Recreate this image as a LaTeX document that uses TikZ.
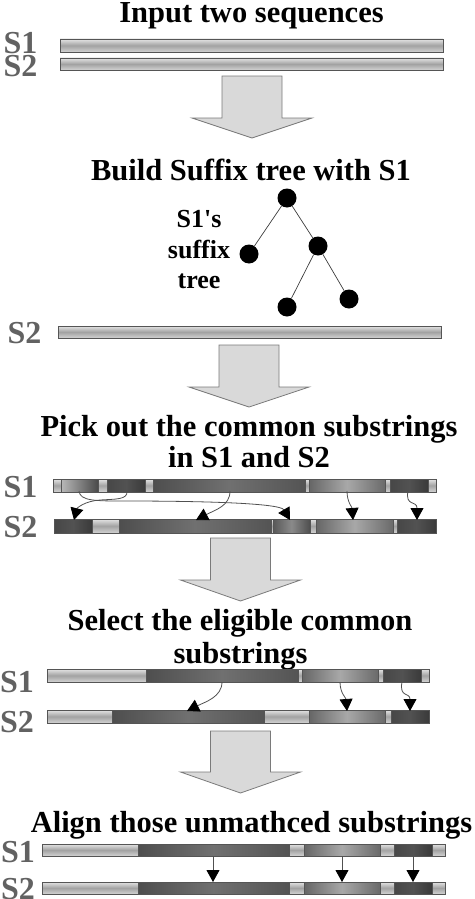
\documentclass[tikz,border=0pt]{standalone}
\usepackage{fontspec}
\setmainfont{Liberation Serif}[Ligatures=TeXOff]
\usetikzlibrary{arrows.meta}
\definecolor{labgray}{HTML}{626262}
\definecolor{bord}{HTML}{555555}
\definecolor{linec}{HTML}{3C3C3C}
\definecolor{connc}{HTML}{505050}
\definecolor{arrfill}{HTML}{D9D9D9}
\definecolor{arrbord}{HTML}{7A7A7A}
\definecolor{lA}{HTML}{E4E4E4}
\definecolor{lB}{HTML}{A2A2A2}
\definecolor{lC}{HTML}{D2D2D2}
\definecolor{dA}{HTML}{474747}
\definecolor{dB}{HTML}{525252}
\definecolor{dC}{HTML}{3A3A3A}
\definecolor{mA}{HTML}{4E4E4E}
\definecolor{mB}{HTML}{707070}
\definecolor{mC}{HTML}{545454}
\definecolor{cA}{HTML}{666666}
\definecolor{cB}{HTML}{A8A8A8}
\definecolor{cC}{HTML}{6A6A6A}
\definecolor{bA}{HTML}{B8B8B8}
\definecolor{bC}{HTML}{4A4A4A}
\definecolor{gA}{HTML}{585858}
\definecolor{gB}{HTML}{8A8A8A}
\definecolor{gC}{HTML}{4E4E4E}
\newcommand\bigarr[4]{%
  \filldraw[bigarrow] (#1-30,#2) -- (#1+30,#2) -- (#1+30,#3) -- (#1+60,#3)
    -- (#1,#4) -- (#1-60,#3) -- (#1-30,#3) -- cycle;}
\newcommand\seqbar[3]{%
  \foreach \a/\b/\s in {#3} {\shadedraw[segbase,\s] (\a,#1) rectangle (\b,#2);}}
\begin{document}
\begin{tikzpicture}[x=1pt,y=-1pt,
  title/.style={font=\fontsize{30.5}{32}\selectfont\bfseries, anchor=base, inner sep=0pt},
  small/.style={font=\fontsize{26}{28}\selectfont\bfseries, anchor=base, inner sep=0pt},
  lab/.style={font=\fontsize{32}{34}\selectfont\bfseries, text=labgray, anchor=base, inner sep=0pt},
  bigarrow/.style={fill=arrfill, draw=arrbord, line width=0.8pt, line join=miter},
  segbase/.style={draw=bord, line width=0.5pt},
  Lsh/.style={top color=lA, bottom color=lC, middle color=lB},
  Dsh/.style={left color=dA, right color=dC, middle color=dB},
  Msh/.style={left color=mA, right color=mC, middle color=mB},
  Csh/.style={left color=cA, right color=cC, middle color=cB},
  Bsh/.style={left color=bA, right color=bC},
  Gsh/.style={left color=gA, right color=gC, middle color=gB},
  tn/.style={circle, fill=black, minimum size=19pt, inner sep=0pt},
  tedge/.style={draw=linec, line width=0.7pt},
  conn/.style={draw=connc, line width=0.8pt, -{Triangle[length=12pt,width=13pt,color=black]}}
]
\useasboundingbox (0,0) rectangle (474,899);

% ---------- Section 1 ----------
\node[title] (t1) at (251.5,23) {Input two sequences};
\node[lab] (l1a) at (20.5,54) {S1};
\node[lab] (l1b) at (20.5,77) {S2};
\seqbar{39}{52}{60/443/Lsh}
\seqbar{58}{70}{60/443/Lsh}
\bigarr{252}{76}{118}{138}

% ---------- Section 2 ----------
\node[title] (t2) at (251,180) {Build Suffix tree with S1};
\node[small] (st1) at (199,227) {S1's};
\node[small] (st2) at (199,258) {suffix};
\node[small] (st3) at (199,288) {tree};
\node[tn] (r) at (287,198) {};
\node[tn] (a) at (249,254) {};
\node[tn] (b) at (318,246) {};
\node[tn] (c) at (287,307) {};
\node[tn] (d) at (349,299) {};
\draw[tedge] (r) -- (a);
\draw[tedge] (r) -- (b);
\draw[tedge] (b) -- (c);
\draw[tedge] (b) -- (d);
\node[lab] (l2b) at (24.5,343) {S2};
\seqbar{326}{338}{58/441/Lsh}
\bigarr{249}{345}{387}{407}

% ---------- Section 3 ----------
\node[title] (t3a) at (249,436) {Pick out the common substrings};
\node[title] (t3b) at (249,467) {in S1 and S2};
\node[lab] (l3a) at (20.5,497) {S1};
\node[lab] (l3b) at (20.5,537) {S2};
\seqbar{479}{492}{53/61/Lsh,61/98/Bsh,98/107/Lsh,107/145/Dsh,145/153/Lsh,153/305/Msh,305/309/Lsh,309/385/Csh,385/390/Lsh,390/428/Dsh,428/436/Lsh}
\seqbar{519}{533}{54/92/Dsh,92/119/Lsh,119/271/Msh,271/273/Lsh,273/310/Gsh,310/316/Lsh,316/393/Csh,393/397/Lsh,397/436/Dsh}
\coordinate (p1s) at (79,491);  \coordinate (p1e) at (290,520);
\coordinate (p2s) at (127,491); \coordinate (p2e) at (74,520);
\coordinate (p3s) at (230,491); \coordinate (p3e) at (196,520);
\coordinate (p4s) at (347,491); \coordinate (p4e) at (353,520);
\coordinate (p5s) at (408,491); \coordinate (p5e) at (417,520);
\draw[conn] (p1s) .. controls (80,501) and (95,501) .. (125,501) .. controls (200,501) and (280,503) .. (p1e);
\draw[conn] (p2s) .. controls (128,500) and (115,499) .. (100,500) .. controls (85,501) and (77,508) .. (p2e);
\draw[conn] (p3s) .. controls (230,506) and (215,510) .. (p3e);
\draw[conn] (p4s) .. controls (347,502) and (352,507) .. (p4e);
\draw[conn] (p5s) .. controls (405,507) and (417,500) .. (p5e);
\bigarr{240.5}{538}{580}{601}

% ---------- Section 4 ----------
\node[title] (t4a) at (240,630) {Select the eligible common};
\node[title] (t4b) at (240.5,663) {substrings};
\node[lab] (l4a) at (17,692) {S1};
\node[lab] (l4b) at (17,732) {S2};
\seqbar{669}{682}{47/146/Lsh,146/298/Msh,298/302/Lsh,302/378/Csh,378/383/Lsh,383/421/Dsh,421/429/Lsh}
\seqbar{710}{723}{47/112/Lsh,112/264/Msh,264/309/Lsh,309/385/Csh,385/391/Lsh,391/429/Dsh}
\coordinate (q1s) at (222,682); \coordinate (q1e) at (187,711);
\coordinate (q2s) at (340,682); \coordinate (q2e) at (347,711);
\coordinate (q3s) at (402,682); \coordinate (q3e) at (410,711);
\draw[conn] (q1s) .. controls (222,697) and (205,702) .. (q1e);
\draw[conn] (q2s) .. controls (340,693) and (346,698) .. (q2e);
\draw[conn] (q3s) .. controls (399,698) and (410,692) .. (q3e);
\bigarr{240.5}{731}{772}{793}

% ---------- Section 5 ----------
\node[title] (t5) at (251.5,832) {Align those unmathced substrings};
\node[lab] (l5a) at (18,862) {S1};
\node[lab] (l5b) at (18,899) {S2};
\seqbar{844}{856}{42/138/Lsh,138/289/Msh,289/304/Lsh,304/380/Csh,380/394/Lsh,394/432/Dsh,432/445/Lsh}
\seqbar{882}{894}{42/138/Lsh,138/289/Msh,289/304/Lsh,304/380/Csh,380/394/Lsh,394/432/Dsh,432/445/Lsh}
\coordinate (u1s) at (213,856); \coordinate (u1e) at (213,882);
\coordinate (u2s) at (342,856); \coordinate (u2e) at (342,882);
\coordinate (u3s) at (413,856); \coordinate (u3e) at (413,882);
\draw[conn] (u1s) -- (u1e);
\draw[conn] (u2s) -- (u2e);
\draw[conn] (u3s) -- (u3e);
\end{tikzpicture}
\end{document}
